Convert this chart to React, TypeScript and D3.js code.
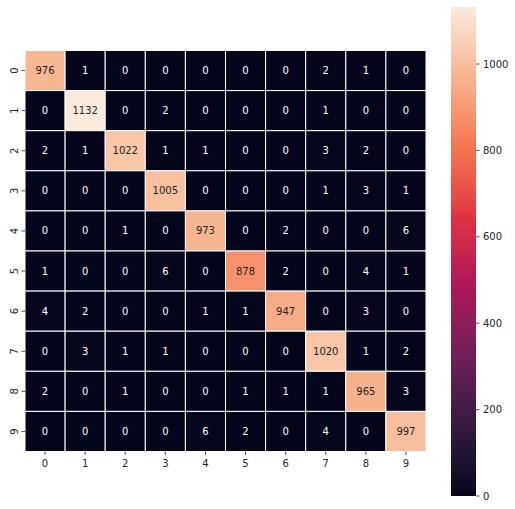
import React from "react";
import * as d3 from "d3";

const labels = ["0", "1", "2", "3", "4", "5", "6", "7", "8", "9"];
const matrix: number[][] = [
  [976, 1, 0, 0, 0, 0, 0, 2, 1, 0],
  [0, 1132, 0, 2, 0, 0, 0, 1, 0, 0],
  [2, 1, 1022, 1, 1, 0, 0, 3, 2, 0],
  [0, 0, 0, 1005, 0, 0, 0, 1, 3, 1],
  [0, 0, 1, 0, 973, 0, 2, 0, 0, 6],
  [1, 0, 0, 6, 0, 878, 2, 0, 4, 1],
  [4, 2, 0, 0, 1, 1, 947, 0, 3, 0],
  [0, 3, 1, 1, 0, 0, 0, 1020, 1, 2],
  [2, 0, 1, 0, 0, 1, 1, 1, 965, 3],
  [0, 0, 0, 0, 6, 2, 0, 4, 0, 997],
];
const colorbarTicks = [0, 200, 400, 600, 800, 1000];
const rocketStops = ["#03051a", "#35193e", "#701f57", "#ad1759", "#e13342", "#f37651", "#f6b48f", "#faebdd"];

const rocket = d3
  .scaleLinear<string>()
  .domain(rocketStops.map((_, i) => (i === 0 ? 0 : i === rocketStops.length - 1 ? 1 : i / 7)))
  .range(rocketStops)
  .interpolate(d3.interpolateLab);

export default function App() {
  const W = 515, H = 509;
  const x0 = 25, y0 = 50.5, size = 401;
  const vmax = d3.max(matrix.flat()) as number;
  const vmin = 0;
  const color = (v: number) => rocket((v - vmin) / (vmax - vmin));
  const x = d3.scaleBand().domain(labels).range([x0, x0 + size]);
  const y = d3.scaleBand().domain(labels).range([y0, y0 + size]);
  const cbX = 451, cbW = 25, cbTop = 7, cbBot = 496;
  const cbScale = d3.scaleLinear().domain([vmin, vmax]).range([cbBot, cbTop]);
  const nGrad = 256;
  const gradSteps = d3.range(nGrad).map((i) => i / (nGrad - 1));
  const font = "'DejaVu Sans', sans-serif";
  const textColor = "#262626";
  const lum = (c: string) => {
    const rgb = d3.rgb(c);
    const f = (u: number) => {
      const s = u / 255;
      return s <= 0.03928 ? s / 12.92 : Math.pow((s + 0.055) / 1.055, 2.4);
    };
    return 0.2126 * f(rgb.r) + 0.7152 * f(rgb.g) + 0.0722 * f(rgb.b);
  };

  return (
    <svg width={W} height={H} style={{ position: "absolute", left: 0, top: 0, background: "#fff" }} fontFamily={font}>
      <defs>
        <linearGradient id="cbgrad" x1="0" y1="1" x2="0" y2="0">
          {gradSteps.map((t, i) => (
            <stop key={i} offset={t} stopColor={rocket(t)} />
          ))}
        </linearGradient>
      </defs>
      {matrix.map((row, i) =>
        row.map((v, j) => {
          const c = color(v);
          return (
            <g key={`${i}-${j}`}>
              <rect x={x(labels[j])} y={y(labels[i])} width={x.bandwidth()} height={y.bandwidth()} fill={c} stroke="#fff" strokeWidth={1} />
            </g>
          );
        })
      )}
      {matrix.map((row, i) =>
        row.map((v, j) => {
          const c = color(v);
          return (
            <text
              key={`t${i}-${j}`}
              x={(x(labels[j]) as number) + x.bandwidth() / 2}
              y={(y(labels[i]) as number) + y.bandwidth() / 2}
              textAnchor="middle"
              dominantBaseline="central"
              fontSize={10}
              fill={lum(c) > 0.408 ? textColor : "#ffffff"}
            >
              {v}
            </text>
          );
        })
      )}
      {labels.map((l) => {
        const cx = (x(l) as number) + x.bandwidth() / 2;
        return (
          <g key={`xt${l}`}>
            <line x1={cx} x2={cx} y1={y0 + size} y2={y0 + size + 3.5} stroke={textColor} strokeWidth={0.8} />
            <text x={cx} y={y0 + size + 15.5} textAnchor="middle" fontSize={10} fill={textColor}>
              {l}
            </text>
          </g>
        );
      })}
      {labels.map((l) => {
        const cy = (y(l) as number) + y.bandwidth() / 2;
        return (
          <g key={`yt${l}`}>
            <line x1={x0 - 3.5} x2={x0} y1={cy} y2={cy} stroke={textColor} strokeWidth={0.8} />
            <text
              transform={`translate(${x0 - 7},${cy}) rotate(-90)`}
              textAnchor="middle"
              fontSize={10}
              fill={textColor}
            >
              {l}
            </text>
          </g>
        );
      })}
      <rect x={cbX} y={cbTop} width={cbW} height={cbBot - cbTop} fill="url(#cbgrad)" />
      {colorbarTicks.map((t) => (
        <g key={`cb${t}`}>
          <line x1={cbX + cbW} x2={cbX + cbW + 3.5} y1={cbScale(t)} y2={cbScale(t)} stroke={textColor} strokeWidth={0.8} />
          <text x={cbX + cbW + 7} y={cbScale(t)} dominantBaseline="central" fontSize={10} fill={textColor}>
            {t}
          </text>
        </g>
      ))}
    </svg>
  );
}
